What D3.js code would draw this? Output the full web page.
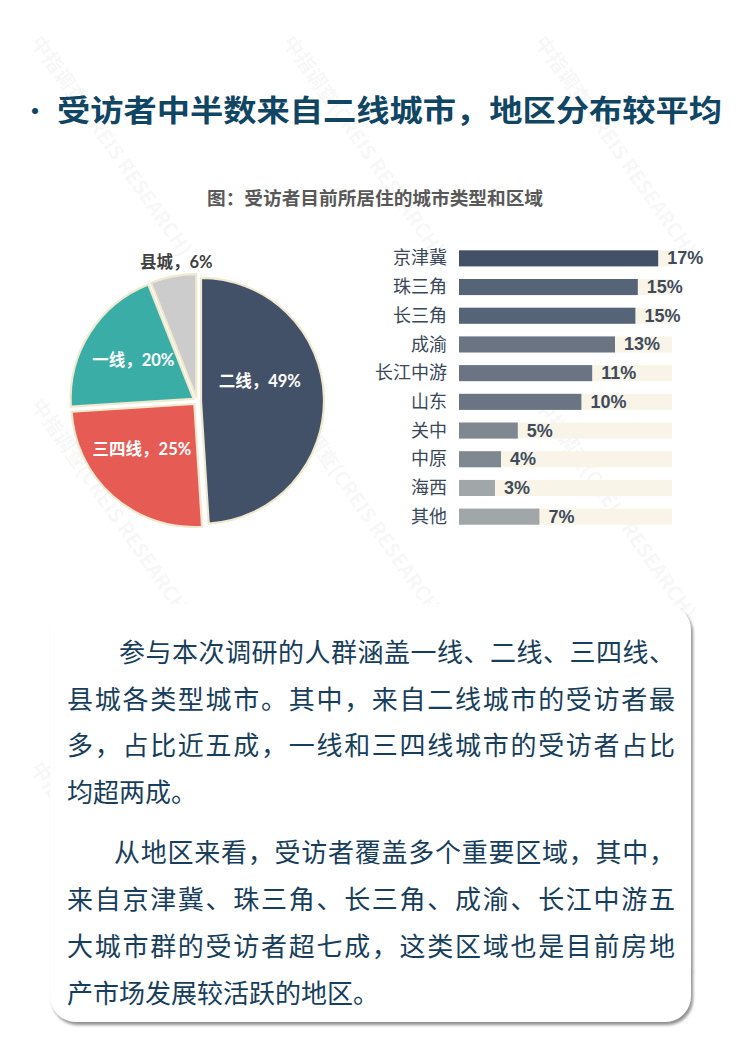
<!DOCTYPE html>
<html>
<head>
<meta charset="utf-8">
<script src="https://cdn.jsdelivr.net/npm/d3@7"></script>
<style>
  html, body { margin: 0; padding: 0; background: #ffffff; }
  svg { display: block; }
</style>
</head>
<body>
<svg id="chart" width="755" height="1058"></svg>
<script>
// ---------------- DATA ----------------
const pageTitle = "受访者中半数来自二线城市，地区分布较平均";
const chartTitle = "图：受访者目前所居住的城市类型和区域";

const cityTypes = ["二线", "三四线", "一线", "县城"];
const cityShares = [49, 25, 20, 6];

const regions = ["京津冀", "珠三角", "长三角", "成渝", "长江中游", "山东", "关中", "中原", "海西", "其他"];
const regionShares = [16.6, 14.9, 14.7, 13.0, 11.1, 10.2, 4.9, 3.5, 3.0, 6.7];

const paragraph1 = [
  "参与本次调研的人群涵盖一线、二线、三四线、",
  "县城各类型城市。其中，来自二线城市的受访者最",
  "多，占比近五成，一线和三四线城市的受访者占比",
  "均超两成。"
];
const paragraph2 = [
  "从地区来看，受访者覆盖多个重要区域，其中，",
  "来自京津冀、珠三角、长三角、成渝、长江中游五",
  "大城市群的受访者超七成，这类区域也是目前房地",
  "产市场发展较活跃的地区。"
];
const watermarkText = "中指调查(CREIS RESEARCH)";

// ---------------- STYLE ----------------
const cjk = "'Noto Sans CJK SC', 'Noto Sans', sans-serif";
const pieColors = ["#435168", "#e65b53", "#3aaea6", "#cccccc"];
const pieLabelColors = ["#ffffff", "#ffffff", "#ffffff", "#404040"];
const barColors = ["#435168", "#566478", "#566478", "#6a7483", "#6a7483", "#6a7483", "#7f8791", "#7f8791", "#a1a6a9", "#a1a6a9"];

const svg = d3.select("#chart");

// drop shadow filter
const defs = svg.append("defs");
const f = defs.append("filter").attr("id", "shadow").attr("x", "-10%").attr("y", "-10%").attr("width", "120%").attr("height", "120%");
f.append("feDropShadow").attr("dx", 2).attr("dy", 3).attr("stdDeviation", 1.6).attr("flood-color", "#7a7a7a").attr("flood-opacity", 0.85);

// ---------------- WATERMARKS ----------------
const wmCols = [30, 282, 534];
const wmRows = [42, 405, 768];
const wm = svg.append("g");
wmRows.forEach(y => wmCols.forEach(x => {
  wm.append("text")
    .attr("transform", `translate(${x},${y}) rotate(55)`)
    .attr("font-family", cjk).attr("font-weight", 700).attr("font-size", 20)
    .attr("fill", "#000").attr("fill-opacity", 0.05)
    .text(watermarkText);
}));

// ---------------- PAGE TITLE ----------------
svg.append("text").attr("x", 23).attr("y", 120)
  .attr("font-family", cjk).attr("font-weight", 700).attr("font-size", 24)
  .attr("fill", "#104564").text("•");
svg.append("text").attr("x", 57).attr("y", 121)
  .attr("font-family", cjk).attr("font-weight", 700).attr("font-size", 30)
  .attr("fill", "#104564")
  .attr("textLength", 665).attr("lengthAdjust", "spacingAndGlyphs")
  .text(pageTitle);

// ---------------- CHART TITLE ----------------
svg.append("text").attr("x", 207).attr("y", 205)
  .attr("font-family", cjk).attr("font-weight", 700).attr("font-size", 18)
  .attr("fill", "#595959")
  .attr("textLength", 336).attr("lengthAdjust", "spacingAndGlyphs")
  .text(chartTitle);

// ---------------- PIE ----------------
const pieCx = 197, pieCy = 401, pieR = 123, explode = 4;
const pie = d3.pie().sort(null).value(d => d).startAngle(0).endAngle(2 * Math.PI);
const arcs = pie(cityShares);
const arc = d3.arc().innerRadius(0).outerRadius(pieR);
const pg = svg.append("g").attr("transform", `translate(${pieCx},${pieCy})`);

pg.selectAll("path.slice").data(arcs).join("path")
  .attr("class", "slice")
  .attr("transform", d => {
    const m = (d.startAngle + d.endAngle) / 2;
    return `translate(${Math.sin(m) * explode},${-Math.cos(m) * explode})`;
  })
  .attr("d", arc)
  .attr("fill", (d, i) => pieColors[i])
  .attr("stroke", "#efe9cf").attr("stroke-width", 2.2).attr("stroke-linejoin", "round");

// label placement (radius, angle in degrees clockwise from 12 o'clock)
const labelPlace = [
  { r: 66, a: 72 },
  { r: 73, a: 229 },
  { r: 76, a: 303 },
  { r: 141, a: 351.5 }
];
pg.selectAll("text.plabel").data(arcs).join("text")
  .attr("class", "plabel")
  .attr("x", (d, i) => Math.sin(labelPlace[i].a * Math.PI / 180) * labelPlace[i].r)
  .attr("y", (d, i) => -Math.cos(labelPlace[i].a * Math.PI / 180) * labelPlace[i].r)
  .attr("text-anchor", "middle").attr("dominant-baseline", "central")
  .attr("font-family", "Lato, " + cjk).attr("font-weight", 700).attr("font-size", 16.5)
  .attr("fill", (d, i) => pieLabelColors[i])
  .text((d, i) => `${cityTypes[i]}，${cityShares[i]}%`);

// ---------------- BAR CHART ----------------
const barX0 = 459, trackW = 213;
const x = d3.scaleLinear().domain([0, 17.75]).range([barX0, barX0 + trackW]);
const y = d3.scaleBand().domain(regions).range([244, 531]).paddingInner(0.44).paddingOuter(0.22);
const bg = svg.append("g");

bg.selectAll("rect.track").data(regions).join("rect")
  .attr("class", "track")
  .attr("x", x(0)).attr("y", d => y(d))
  .attr("width", x(17.75) - x(0)).attr("height", y.bandwidth())
  .attr("fill", "#f8f5e8");

bg.selectAll("rect.bar").data(regionShares).join("rect")
  .attr("class", "bar")
  .attr("x", x(0)).attr("y", (d, i) => y(regions[i]))
  .attr("width", d => x(d) - x(0)).attr("height", y.bandwidth())
  .attr("fill", (d, i) => barColors[i]);

bg.selectAll("text.val").data(regionShares).join("text")
  .attr("class", "val")
  .attr("x", d => x(d) + 9)
  .attr("y", (d, i) => y(regions[i]) + y.bandwidth() / 2)
  .attr("dominant-baseline", "central")
  .attr("font-family", "'Liberation Sans', Arial, sans-serif").attr("font-weight", 700).attr("font-size", 18)
  .attr("fill", "#3f4b5c")
  .text(d => Math.round(d) + "%");

const yAxis = d3.axisLeft(y).tickSize(0).tickPadding(12);
const ax = svg.append("g").attr("transform", `translate(${barX0},0)`).call(yAxis);
ax.select(".domain").remove();
ax.selectAll("text")
  .attr("font-family", cjk).attr("font-size", 18).attr("fill", "#3b485b")
  .attr("dy", "0.34em");

// ---------------- TEXT BOX ----------------
svg.append("rect")
  .attr("x", 50).attr("y", 604).attr("width", 641).attr("height", 418)
  .attr("rx", 26).attr("ry", 26)
  .attr("fill", "#ffffff")
  .attr("filter", "url(#shadow)");

const textLeft = 67, textRight = 675, fs = 26;
const para = svg.append("g")
  .attr("font-family", cjk).attr("font-size", fs).attr("fill", "#173e5c");

function drawPara(lines, ys, firstIndentX) {
  lines.forEach((ln, i) => {
    const x0 = i === 0 ? firstIndentX : textLeft;
    const t = para.append("text")
      .attr("x", x0).attr("y", ys[i])
      .attr("dominant-baseline", "central")
      .text(ln);
    if (i < lines.length - 1) {
      t.attr("textLength", textRight - x0).attr("lengthAdjust", "spacing");
    }
  });
}
drawPara(paragraph1, [650, 697, 743, 790], 119);
drawPara(paragraph2, [850, 897, 944, 991], 114);
</script>
</body>
</html>
